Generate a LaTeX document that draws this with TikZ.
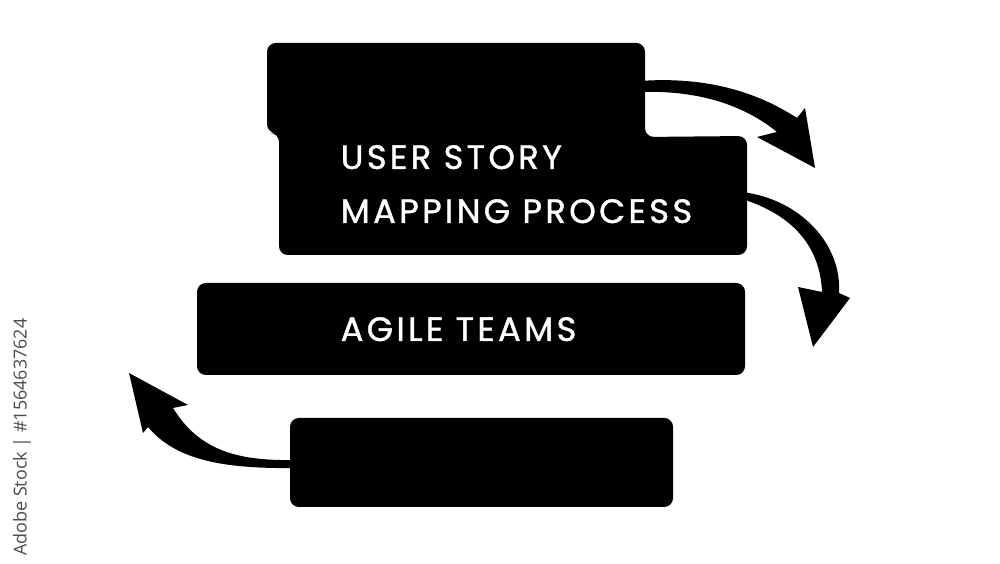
\documentclass[tikz,border=0pt]{standalone}
\usepackage{fontspec}
\setmainfont{Poppins}
\newfontfamily\labelfont[LetterSpace=10,FakeBold=1.2]{Poppins}
\newfontfamily\wmfont{Open Sans}
\definecolor{wmgray}{RGB}{75,75,75}
\begin{document}
\begin{tikzpicture}
\tikzset{
  blk/.style={fill=black, draw=none, rounded corners=2.5pt, inner sep=0pt, outer sep=0pt, anchor=north west},
  ghost/.style={draw=none, inner sep=0pt, outer sep=0pt, anchor=north west},
  lbl/.style={text=white, font=\labelfont\fontsize{9.6}{11}\selectfont, anchor=base west, inner sep=0pt},
  arrowfill/.style={fill=black, draw=none},
}
\useasboundingbox (0,0) rectangle (10,5.64);
\fill[white] (0,0) rectangle (10,5.64);

% top two-step block (drawn as one outline), with named parts
\node[ghost, minimum width=3.78cm, minimum height=0.94cm] (b1) at (2.67,5.21) {};
\node[ghost, minimum width=4.68cm, minimum height=1.19cm] (b1l) at (2.79,4.28) {};
\fill[rounded corners=2.5pt] (b1.north west) -- (b1.north east) -- (6.45,4.27) -- (b1l.north east)
  -- (b1l.south east) -- (b1l.south west) -- (2.79,4.31) -- (2.67,4.31) -- cycle;

\node[blk, minimum width=5.48cm, minimum height=0.92cm] (b2) at (1.97,2.81) {};
\node[blk, minimum width=3.83cm, minimum height=0.89cm] (b3) at (2.90,1.46) {};

% labels
\node[lbl] (lUser) at (3.40,3.95) {USER STORY};
\node[lbl] (lMap) at (3.40,3.41) {MAPPING PROCESS};
\node[lbl] (lAgile) at (3.40,2.23) {AGILE TEAMS};

% arrow 1: from top block to the right
\coordinate (t1) at (8.15,3.96);
\fill[arrowfill] ([xshift=-0.5mm,yshift=0.9mm]b1.east)
  .. controls (7.1,4.88) and (7.6,4.70) .. (7.97,4.46)
  -- (8.05,4.56) -- (t1) -- (7.57,4.27) -- (7.77,4.32)
  .. controls (7.45,4.58) and (7.0,4.74) .. ([xshift=-0.5mm,yshift=-0.2mm]b1.east) -- cycle;

% arrow 2: from lower block downwards
\coordinate (t2) at (8.13,2.17);
\fill[arrowfill] ([xshift=-0.5mm,yshift=0.35mm]b1l.east)
  .. controls (8.0,3.65) and (8.42,3.20) .. (8.39,2.71)
  -- (8.50,2.66) -- (t2) -- (7.98,2.77) -- (8.22,2.72)
  .. controls (8.20,3.20) and (7.90,3.50) .. ([xshift=-0.5mm,yshift=-0.35mm]b1l.east) -- cycle;

% arrow 3: from bottom block to the upper left
\coordinate (t3) at (1.29,1.91);
\fill[arrowfill] ([xshift=0.5mm,yshift=0.25mm]b3.west)
  .. controls (2.40,1.03) and (2.00,1.12) .. (1.73,1.56)
  -- (1.88,1.59) -- (t3) -- (1.43,1.31) -- (1.48,1.37)
  .. controls (1.75,1.05) and (2.20,0.95) .. ([xshift=0.5mm,yshift=-0.55mm]b3.west) -- cycle;

% side credit text
\node[rotate=90, anchor=east, inner sep=0pt, text=wmgray, font=\wmfont\fontsize{5.1}{6}\selectfont] (credit) at (0.22,2.46) {Adobe Stock | \#1564637624};
\end{tikzpicture}
\end{document}
